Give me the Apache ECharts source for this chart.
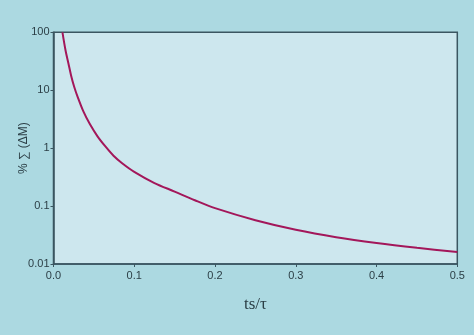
<!DOCTYPE html>
<html>
<head>
<meta charset="utf-8">
<script src="https://cdn.jsdelivr.net/npm/echarts@6/dist/echarts.min.js"></script>
<style>
html,body{margin:0;padding:0;background:#acd9e1;}
#c{width:474px;height:335px;}
</style>
</head>
<body>
<div id="c"></div>
<script>
const xValues = [0.0111, 0.015, 0.0185, 0.022, 0.0256, 0.03, 0.037, 0.045, 0.0545, 0.064, 0.0743, 0.085, 0.1, 0.125, 0.15, 0.175, 0.2, 0.25, 0.3, 0.35, 0.4, 0.45, 0.5];
const yValues = [100, 48, 29, 17.5, 11.5, 7.6, 4.3, 2.6, 1.6, 1.08, 0.74, 0.55, 0.39, 0.25, 0.178, 0.126, 0.092, 0.057, 0.039, 0.029, 0.023, 0.019, 0.0161];
const xTicks = ['0.0', '0.1', '0.2', '0.3', '0.4', '0.5'];
const yTicks = ['0.01', '0.1', '1', '10', '100'];

const chart = echarts.init(document.getElementById('c'));
const axisColor = '#3b5661';
const textColor = '#2b3e45';
chart.setOption({
  backgroundColor: '#acd9e1',
  animation: false,
  grid: {
    left: 53.5, right: 16.7, top: 32.3, bottom: 71,
    show: true, backgroundColor: '#cde7ee', borderColor: axisColor, borderWidth: 1.5
  },
  xAxis: {
    type: 'value', min: 0, max: 0.5, interval: 0.1,
    name: 'ts/τ', nameLocation: 'middle', nameGap: 32,
    nameTextStyle: { fontFamily: 'Liberation Serif', fontSize: 17, color: textColor },
    axisLine: { show: true, lineStyle: { color: axisColor, width: 1.5 } },
    axisTick: { show: true, length: 3, lineStyle: { color: axisColor } },
    splitLine: { show: false },
    axisLabel: {
      fontFamily: 'Liberation Sans', fontSize: 11, color: textColor, margin: 6,
      formatter: v => xTicks[Math.round(v * 10)]
    }
  },
  yAxis: {
    type: 'log', logBase: 10, min: 0.01, max: 100,
    name: '% ∑ (ΔM)', nameLocation: 'middle', nameGap: 24, nameMoveOverlap: false,
    nameTextStyle: { fontFamily: 'Liberation Sans', fontSize: 12, color: textColor },
    axisLine: { show: true, lineStyle: { color: axisColor, width: 1.5 } },
    axisTick: { show: true, length: 3, lineStyle: { color: axisColor } },
    splitLine: { show: false },
    axisLabel: {
      fontFamily: 'Liberation Sans', fontSize: 11, color: textColor, margin: 4,
      formatter: v => yTicks[Math.round(Math.log10(v)) + 2]
    }
  },
  series: [{
    type: 'line',
    data: xValues.map((x, i) => [x, yValues[i]]),
    smooth: 0.3,
    showSymbol: false,
    lineStyle: { color: '#a3175a', width: 2 }
  }]
});
</script>
</body>
</html>
